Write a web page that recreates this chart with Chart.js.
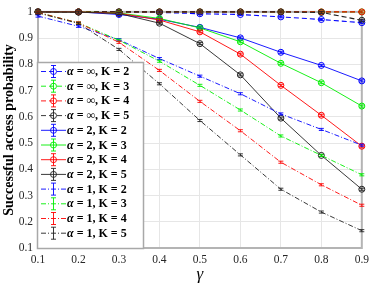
<!DOCTYPE html>
<html>
<head>
<meta charset="utf-8">
<script src="https://cdn.jsdelivr.net/npm/chart.js@4/dist/chart.umd.min.js"></script>
<style>
html,body{margin:0;padding:0;background:#fff;}
#wrap{position:relative;width:374px;height:289px;}
</style>
</head>
<body>
<div id="wrap"><canvas id="c" width="374" height="289"></canvas></div>
<script>
// ---- data ----
const gamma = [0.1, 0.2, 0.3, 0.4, 0.5, 0.6, 0.7, 0.8, 0.9];
const xTicks = [0.1, 0.2, 0.3, 0.4, 0.5, 0.6, 0.7, 0.8, 0.9];
const yTicks = [0.1, 0.2, 0.3, 0.4, 0.5, 0.6, 0.7, 0.8, 0.9, 1];

const aInfK2 = [1, 1, 1, 0.998, 0.993, 0.990, 0.981, 0.971, 0.959];
const aInfK3 = [1, 1, 1, 1, 1, 1, 1, 1, 1];
const aInfK4 = [1, 1, 1, 1, 1, 1, 1, 1, 1];
const aInfK5 = [1, 1, 1, 1, 1, 1, 1, 0.998, 0.968];

const a2K2 = [1, 1, 0.990, 0.972, 0.941, 0.901, 0.846, 0.796, 0.737];
const a2K3 = [1, 1, 0.996, 0.975, 0.939, 0.886, 0.804, 0.730, 0.641];
const a2K4 = [1, 1, 0.995, 0.969, 0.924, 0.839, 0.720, 0.606, 0.488];
const a2K5 = [1, 0.999, 0.994, 0.957, 0.879, 0.760, 0.595, 0.453, 0.324];

const a1K2 = [0.984, 0.945, 0.894, 0.822, 0.755, 0.688, 0.611, 0.552, 0.492];
const a1K3 = [0.998, 0.958, 0.892, 0.812, 0.720, 0.626, 0.527, 0.453, 0.379];
const a1K4 = [0.998, 0.958, 0.884, 0.777, 0.659, 0.547, 0.427, 0.341, 0.263];
const a1K5 = [0.996, 0.956, 0.857, 0.726, 0.586, 0.455, 0.324, 0.237, 0.166];

const errHalf = [0.004, 0.004, 0.004, 0.004, 0.004, 0.004, 0.004, 0.004, 0.004];

const seriesNames = [
  ['α', ' = ∞, K = 2'], ['α', ' = ∞, K = 3'], ['α', ' = ∞, K = 4'], ['α', ' = ∞, K = 5'],
  ['α', ' = 2, K = 2'], ['α', ' = 2, K = 3'], ['α', ' = 2, K = 4'], ['α', ' = 2, K = 5'],
  ['α', ' = 1, K = 2'], ['α', ' = 1, K = 3'], ['α', ' = 1, K = 4'], ['α', ' = 1, K = 5']
];
const seriesValues = [aInfK2, aInfK3, aInfK4, aInfK5, a2K2, a2K3, a2K4, a2K5, a1K2, a1K3, a1K4, a1K5];

// ---- styles ----
const colors = ['#0000ff', '#00ee00', '#ff0000', '#222222'];
const dashFor = [[5, 3], [], [5, 2, 1, 2]];
const markerFor = [true, true, false];

const datasets = seriesValues.map((vals, i) => {
  const g = Math.floor(i / 4), c = colors[i % 4];
  return {
    label: seriesNames[i].join(''),
    data: gamma.map((x, j) => ({x: x, y: vals[j]})),
    borderColor: c,
    backgroundColor: 'rgba(0,0,0,0)',
    borderWidth: g === 0 ? 1.1 : 0.9,
    borderDash: dashFor[g],
    pointRadius: markerFor[g] ? 3 : 0,
    pointBorderWidth: 1,
    pointBorderColor: c,
    pointBackgroundColor: 'rgba(0,0,0,0)',
    pointStyle: 'circle',
    tension: 0,
    clip: false,
    order: 12 - i,
    _g: g, _c: c
  };
});

const serif = '"Liberation Serif", "DejaVu Serif", serif';

const boxPlugin = {
  id: 'box',
  beforeDatasetsDraw(chart) {
    const a = chart.chartArea, ctx = chart.ctx;
    ctx.save();
    ctx.strokeStyle = '#b4b4b4';
    ctx.lineWidth = 2;
    ctx.strokeRect(a.left, a.top, a.right - a.left, a.bottom - a.top);
    ctx.restore();
  }
};

const errPlugin = {
  id: 'errbars',
  afterDatasetsDraw(chart) {
    const ctx = chart.ctx, ys = chart.scales.y, xs = chart.scales.x;
    ctx.save();
    chart.data.datasets.forEach((ds, i) => {
      ctx.strokeStyle = ds._c;
      ctx.lineWidth = 0.9;
      ctx.setLineDash([]);
      ds.data.forEach((p, j) => {
        const x = xs.getPixelForValue(p.x);
        const y1 = ys.getPixelForValue(p.y - errHalf[j]);
        const y2 = ys.getPixelForValue(Math.min(p.y + errHalf[j], 1.004));
        ctx.beginPath();
        ctx.moveTo(x, y1); ctx.lineTo(x, y2);
        ctx.moveTo(x - 2.5, y1); ctx.lineTo(x + 2.5, y1);
        ctx.moveTo(x - 2.5, y2); ctx.lineTo(x + 2.5, y2);
        ctx.stroke();
      });
    });
    ctx.restore();
  }
};

const legendPlugin = {
  id: 'mylegend',
  afterDraw(chart) {
    const ctx = chart.ctx;
    const bx = 37.5, by = 62.5, bw = 106, bh = 186;
    ctx.save();
    ctx.fillStyle = '#ffffff';
    ctx.fillRect(bx, by, bw, bh);
    ctx.strokeStyle = '#a8a8a8';
    ctx.lineWidth = 1.5;
    ctx.strokeRect(bx, by, bw, bh);
    chart.data.datasets.forEach((ds, i) => {
      const y = 71.5 + i * 14.7;
      ctx.strokeStyle = ds._c;
      ctx.lineWidth = 0.9;
      ctx.setLineDash(dashFor[ds._g]);
      ctx.beginPath(); ctx.moveTo(41, y); ctx.lineTo(66, y); ctx.stroke();
      ctx.setLineDash([]);
      const mx = 53.5;
      ctx.beginPath();
      ctx.moveTo(mx, y - 6); ctx.lineTo(mx, y + 6);
      ctx.moveTo(mx - 2.5, y - 6); ctx.lineTo(mx + 2.5, y - 6);
      ctx.moveTo(mx - 2.5, y + 6); ctx.lineTo(mx + 2.5, y + 6);
      ctx.stroke();
      if (markerFor[ds._g]) {
        ctx.beginPath(); ctx.arc(mx, y, 3, 0, Math.PI * 2); ctx.stroke();
      }
      ctx.fillStyle = '#000';
      ctx.textBaseline = 'middle';
      ctx.textAlign = 'left';
      ctx.font = 'italic bold 12px ' + serif;
      const parts = seriesNames[i];
      ctx.fillText(parts[0], 67, y + 0.5);
      const w = ctx.measureText(parts[0]).width;
      ctx.font = 'bold 12px ' + serif;
      ctx.fillText(parts[1], 67 + w, y + 0.5);
    });
    ctx.restore();
  }
};

new Chart(document.getElementById('c'), {
  type: 'line',
  data: {datasets: datasets},
  options: {
    responsive: false,
    animation: false,
    events: [],
    layout: {padding: {top: 4, right: 9, left: 0, bottom: 0}},
    plugins: {legend: {display: false}, tooltip: {enabled: false}},
    scales: {
      x: {
        type: 'linear', min: 0.1, max: 0.9,
        afterBuildTicks(s) { s.ticks = xTicks.map(v => ({value: v})); },
        afterFit(s) { s.height = 41; },
        grid: {color: '#e6e6e6', drawTicks: false},
        border: {display: false},
        ticks: {padding: 5, color: '#262626', font: {family: serif, size: 11.5},
          callback: v => Number(v).toFixed(1), maxRotation: 0},
        title: {display: true, text: 'γ', color: '#000',
          font: {family: serif, size: 17, style: 'italic'}, padding: {top: 0, bottom: 4}}
      },
      y: {
        type: 'linear', min: 0.1, max: 1,
        afterBuildTicks(s) { s.ticks = yTicks.map(v => ({value: v})); },
        afterFit(s) { s.width = 38; },
        grid: {color: '#e6e6e6', drawTicks: false},
        border: {display: false},
        ticks: {padding: 5, color: '#262626', font: {family: serif, size: 11.5},
          callback: v => String(Math.round(v * 10) / 10)},
        title: {display: true, text: 'Successful access probability', color: '#000',
          font: {family: serif, size: 14, weight: 'bold'}, padding: {top: 1, bottom: 0}}
      }
    }
  },
  plugins: [boxPlugin, errPlugin, legendPlugin]
});
</script>
</body>
</html>
